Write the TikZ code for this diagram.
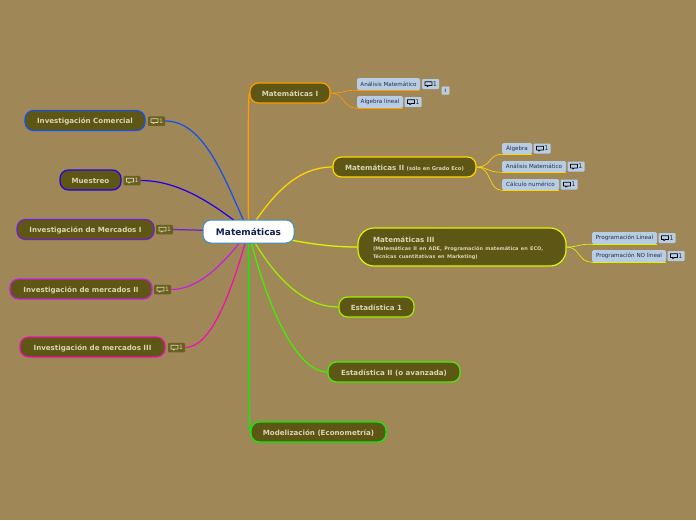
\documentclass[tikz,border=0pt]{standalone}
\usepackage{fontspec}
\setmainfont{DejaVu Sans}
\usetikzlibrary{backgrounds}
\definecolor{bgc}{HTML}{A08758}
\definecolor{topicfill}{HTML}{5E5614}
\definecolor{topictext}{HTML}{DAD5B5}
\definecolor{leaffill}{HTML}{B8CCE4}
\definecolor{leaftext}{HTML}{222E44}
\definecolor{badgefill}{HTML}{6A6020}
\definecolor{centraltext}{HTML}{102050}
\definecolor{centralline}{HTML}{3A8CC8}
\definecolor{cOrange}{HTML}{FF9C00}
\definecolor{cYellow}{HTML}{FFD800}
\definecolor{cLime}{HTML}{DCF800}
\definecolor{cLeaf}{HTML}{9CF000}
\definecolor{cGreenA}{HTML}{44F000}
\definecolor{cGreenB}{HTML}{00F400}
\definecolor{cBlueA}{HTML}{1450F0}
\definecolor{cBlueB}{HTML}{2400E8}
\definecolor{cPurple}{HTML}{7020D0}
\definecolor{cViolet}{HTML}{C820E0}
\definecolor{cMagenta}{HTML}{F010B0}
\tikzset{
  x=1pt,y=-1pt,
  topicbase/.style={draw=#1,fill=topicfill,line width=1.2pt,rounded corners=8.5pt,inner sep=0pt,
    text=topictext,font=\fontsize{7.1pt}{8pt}\bfseries,anchor=center},
  topic/.style={topicbase=#1,text height=7pt,text depth=0.6pt},
  central/.style={draw=#1,fill=white,line width=1pt,rounded corners=8pt,inner sep=0pt,
    text=centraltext,font=\fontsize{9pt}{11pt}\bfseries},
  leaf/.style={fill=leaffill,rounded corners=1.5pt,inner sep=0pt,text=leaftext,
    font=\fontsize{5.6pt}{6pt}\selectfont},
  tbadge/.style={fill=badgefill,rounded corners=1pt,inner sep=0pt,minimum width=17pt,minimum height=9.5pt,
    text=topictext,font=\fontsize{6pt}{7pt}\selectfont},
  lbadge/.style={fill=leaffill,rounded corners=1pt,inner sep=0pt,minimum width=17pt,minimum height=10pt,
    text=black!80,font=\fontsize{6.5pt}{7pt}\selectfont},
  wire/.style={draw=#1,line width=1.25pt},
  twig/.style={draw=#1,line width=0.65pt},
  under/.style={draw=#1,line width=1.3pt},
}
% name, style, centre x, centre y, bubble colour
\newcommand{\bubblebadge}[5]{%
  \node[#2] (#1) at (#3,#4) {\hspace*{9pt}1};
  \draw[#5,line width=0.8pt,line join=round,shift={(#3,#4)}]
    (-5.5,-2.2) -- (1.5,-2.2) -- (1.5,1.4) -- (-1.5,1.4) -- (-3.2,2.6) -- (-3.2,1.4) -- (-5.5,1.4) -- cycle;
}
\begin{document}
\begin{tikzpicture}
\useasboundingbox (0,0) rectangle (696,520);

\node[central=centralline,minimum width=91pt,minimum height=23pt] (c) at (248.5,231.5) {Matemáticas};

% right topics
\node[topic=cOrange,minimum width=80pt,minimum height=20pt] (m1) at (290,93) {Matemáticas I};
\node[topic=cYellow,minimum width=143pt,minimum height=20pt] (m2) at (404.5,167) {Matemáticas II {\fontsize{5.2pt}{6pt}\selectfont\bfseries (sólo en Grado Eco)}};
\node[topicbase=cLime,minimum width=208pt,minimum height=38pt,rounded corners=16pt,text width=178pt,align=left] (m3) at (462,247)
  {\rule{0pt}{8pt}Matemáticas III\\[-0.5pt]{\fontsize{4.95pt}{8pt}\selectfont\bfseries (Matemáticas II en ADE, Programación matemática en ECO,\\Técnicas cuantitativas en Marketing)}};
\node[topic=cLeaf,minimum width=75pt,minimum height=20pt] (e1) at (376.5,307) {Estadística 1};
\node[topic=cGreenA,minimum width=132pt,minimum height=20pt] (e2) at (394,372) {Estadística II (o avanzada)};
\node[topic=cGreenB,minimum width=135pt,minimum height=20pt] (mo) at (318.5,432) {Modelización (Econometría)};

% left topics
\node[topic=cBlueA,minimum width=120pt,minimum height=20pt] (ic) at (85,120.5) {Investigación Comercial};
\node[topic=cBlueB,minimum width=61pt,minimum height=20pt] (mu) at (90.5,180) {Muestreo};
\node[topic=cPurple,minimum width=137pt,minimum height=20pt] (i1) at (85.5,229.5) {Investigación de Mercados I};
\node[topic=cViolet,minimum width=142pt,minimum height=20pt] (i2) at (81,289) {Investigación de mercados II};
\node[topic=cMagenta,minimum width=145pt,minimum height=20pt] (i3) at (92.5,347) {Investigación de mercados III};

\bubblebadge{bic}{tbadge}{156.5}{121}{topictext}
\bubblebadge{bmu}{tbadge}{132}{180.5}{topictext}
\bubblebadge{bi1}{tbadge}{164.5}{229.5}{topictext}
\bubblebadge{bi2}{tbadge}{162.5}{289.5}{topictext}
\bubblebadge{bi3}{tbadge}{176.5}{347.5}{topictext}

% leaves
\node[leaf,minimum width=63pt,minimum height=12pt] (l1) at (388.5,84) {Análisis Matemático};
\node[leaf,minimum width=46pt,minimum height=12pt] (l2) at (380,102) {Algebra lineal};
\node[leaf,minimum width=30pt,minimum height=11pt] (l3) at (517,148.5) {Álgebra};
\node[leaf,minimum width=64pt,minimum height=11pt] (l4) at (534,166.5) {Análisis Matemático};
\node[leaf,minimum width=57pt,minimum height=11pt] (l5) at (530.5,184.5) {Cálculo numérico};
\node[leaf,minimum width=65pt,minimum height=12pt] (l6) at (624.5,238) {Programación Lineal};
\node[leaf,minimum width=74pt,minimum height=12pt] (l7) at (629,256) {Programación NO lineal};

\bubblebadge{bl1}{lbadge}{430.5}{84}{black}
\bubblebadge{bl2}{lbadge}{413}{102}{black}
\bubblebadge{bl3}{lbadge}{542}{148.5}{black}
\bubblebadge{bl4}{lbadge}{576}{166.5}{black}
\bubblebadge{bl5}{lbadge}{569}{184.5}{black}
\bubblebadge{bl6}{lbadge}{667}{238}{black}
\bubblebadge{bl7}{lbadge}{676}{256}{black}
\node[fill=leaffill,draw=cOrange!35!leaffill,line width=0.4pt,rounded corners=1pt,inner sep=0pt,minimum width=7.5pt,minimum height=8pt,
  text=leaftext,font=\fontsize{4.5pt}{5pt}\bfseries] (ex) at (445.5,90.5) {!};

\begin{pgfonlayer}{background}
\fill[bgc] (0,0) rectangle (696,520);
% main connectors
\draw[wire=cOrange] (c.center) .. controls (248,170) and (248,93) .. (m1.west);
\draw[wire=cYellow] (c.center) .. controls (275,190) and (300,167) .. (m2.west);
\draw[wire=cLime] (c.center) .. controls (290,240) and (320,247) .. (m3.west);
\draw[wire=cLeaf] (c.center) .. controls (275,280) and (305,307) .. (e1.west);
\draw[wire=cGreenA] (c.center) .. controls (265,300) and (295,372) .. (e2.west);
\draw[wire=cGreenB] (c.center) .. controls (249,320) and (249,432) .. (mo.west);
\draw[wire=cBlueA] (c.center) .. controls (225,180) and (205,121) .. (bic.east);
\draw[wire=cBlueB] (c.center) .. controls (215,205) and (180,180.5) .. (bmu.east);
\draw[wire=cPurple] (c.center) -- (bi1.east);
\draw[wire=cViolet] (c.center) .. controls (225,262) and (200,289.5) .. (bi2.east);
\draw[wire=cMagenta] (c.center) .. controls (232,290) and (212,347.5) .. (bi3.east);
% leaf connectors
\draw[twig=cOrange] (m1.east) .. controls (345,93) and (342,90.5) .. (l1.south west);
\draw[twig=cOrange] (m1.east) .. controls (345,93) and (342,108) .. (l2.south west);
\draw[twig=cYellow] (m2.east) .. controls (492,167) and (488,154.5) .. (l3.south west);
\draw[twig=cYellow] (m2.east) .. controls (488,167) and (488,172.5) .. (l4.south west);
\draw[twig=cYellow] (m2.east) .. controls (492,167) and (488,190.5) .. (l5.south west);
\draw[twig=cLime] (m3.east) .. controls (578,247) and (578,244) .. (l6.south west);
\draw[twig=cLime] (m3.east) .. controls (580,247) and (578,262) .. (l7.south west);
\end{pgfonlayer}
\draw[under=cOrange] (l1.south west) -- (l1.south east);
\draw[under=cOrange] (l2.south west) -- (l2.south east);
\draw[under=cYellow] (l3.south west) -- (l3.south east);
\draw[under=cYellow] (l4.south west) -- (l4.south east);
\draw[under=cYellow] (l5.south west) -- (l5.south east);
\draw[under=cLime] (l6.south west) -- (l6.south east);
\draw[under=cLime] (l7.south west) -- (l7.south east);
\end{tikzpicture}
\end{document}
